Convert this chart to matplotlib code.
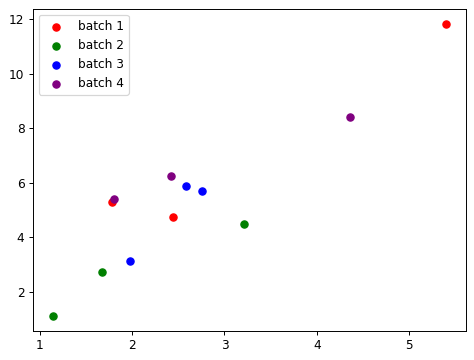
import matplotlib
matplotlib.use("Agg")
import matplotlib.pyplot as plt

batch_names = ["batch 1", "batch 2", "batch 3", "batch 4"]
batch_colors = ["red", "green", "blue", "purple"]

x_batch1 = [1.78, 2.44, 5.40]
y_batch1 = [5.28, 4.75, 11.84]
x_batch2 = [1.14, 1.67, 3.21]
y_batch2 = [1.10, 2.73, 4.49]
x_batch3 = [1.98, 2.58, 2.76]
y_batch3 = [3.12, 5.87, 5.68]
x_batch4 = [1.80, 2.42, 4.36]
y_batch4 = [5.39, 6.26, 8.40]

xs = [x_batch1, x_batch2, x_batch3, x_batch4]
ys = [y_batch1, y_batch2, y_batch3, y_batch4]

dpi = 87
fig = plt.figure(figsize=(474 / dpi, 360 / dpi), dpi=dpi)
ax = fig.add_axes([0.0696, 0.0814, 0.9129, 0.8936])

for x, y, name, color in zip(xs, ys, batch_names, batch_colors):
    ax.scatter(x, y, c=color, label=name)

ax.legend(loc="upper left")

fig.savefig("out.png", dpi=dpi)
